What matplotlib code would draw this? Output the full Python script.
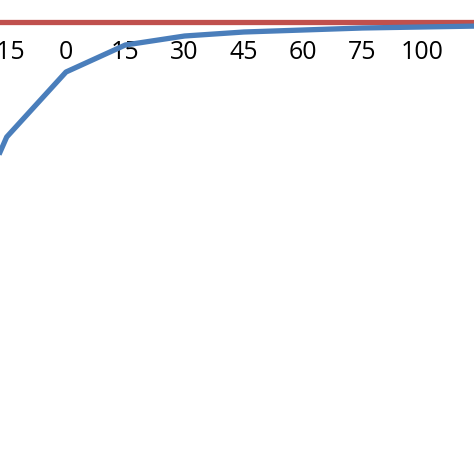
import matplotlib
matplotlib.use("Agg")
import matplotlib.pyplot as plt

categories = ["-30", "-15", "0", "15", "30", "45", "60", "75", "100", "125"]
blue_values = [-250, -115, -50, -23, -14, -10, -8, -6, -5, -4]
red_values = [0, 0, 0, 0, 0, 0, 0, 0, 0, 0]

fig = plt.figure(figsize=(4.74, 4.74), dpi=100)
ax = fig.add_axes([0, 0, 1, 1])
x = list(range(len(categories)))
ax.plot(x, red_values, color="#c0504d", lw=3.8, solid_capstyle="butt")
ax.plot(x, blue_values, color="#4a7ebb", lw=3.8, solid_capstyle="butt")
ax.set_xticks(x)
ax.set_xticklabels(categories, fontsize=18, family="Open Sans")
ax.set_xlim(0.887, 8.88)
ax.set_ylim(-452, 22)
ax.tick_params(axis="x", top=False, bottom=False, labeltop=True, labelbottom=False, pad=-50)
ax.set_yticks([])
for s in ax.spines.values():
    s.set_visible(False)
fig.savefig("out.png", dpi=100)
